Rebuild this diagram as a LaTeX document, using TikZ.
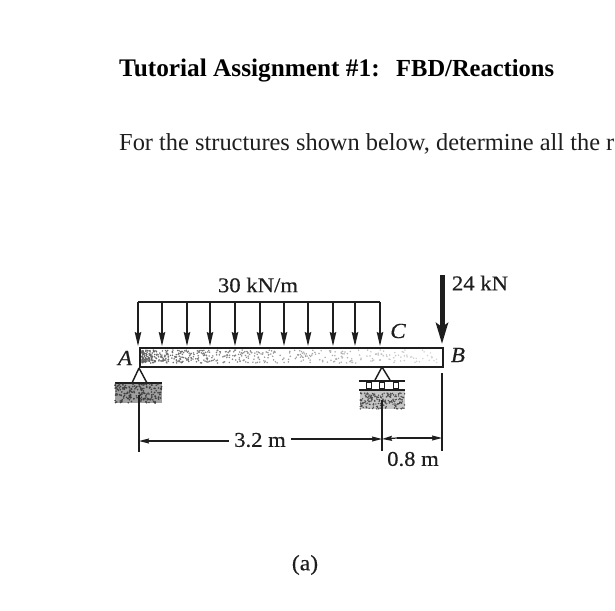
\documentclass[tikz,border=0pt]{standalone}
\usepackage{fontspec}
\setmainfont{Liberation Serif}
\newfontfamily\figfont[FakeStretch=1.08,FakeBold=0.35]{Liberation Serif}
\usetikzlibrary{arrows.meta}
\definecolor{ink}{HTML}{1E1E1E}
\tikzset{
  line/.style={draw=ink,line width=1.45pt},
  thin line/.style={draw=ink,line width=1.15pt},
  load/.style={draw=ink,line width=1.4pt,-{Stealth[length=14pt,width=6.5pt,inset=1.5pt]}},
  dimarrow/.style={draw=ink,line width=1.2pt,-{Stealth[length=10pt,width=5pt,inset=1pt]}},
  title/.style={anchor=base west,inner sep=0pt,font=\fontsize{24.5}{28}\selectfont\bfseries,text=black},
  body/.style={anchor=base west,inner sep=0pt,font=\fontsize{24.4}{28}\selectfont,text=ink},
  lbl/.style={inner sep=0pt,font=\figfont\fontsize{21}{24}\selectfont,text=ink},
  ital/.style={inner sep=0pt,font=\figfont\fontsize{21.5}{26}\selectfont\itshape,text=ink},
  ground/.style={fill=gray!75,draw=none}
}
\begin{document}
\begin{tikzpicture}[x=1pt,y=-1pt]
\useasboundingbox (0,0) rectangle (615,610);
\clip (0,0) rectangle (615,610);
\fill[white] (0,0) rectangle (615,610);
% text
\node[title,font=\fontsize{25.3}{28}\selectfont\bfseries] (t1) at (119,76) {Tutorial Assignment \#1:};
\node[title] (t2) at (396,76) {FBD/Reactions};
\node[body] (p) at (119,150) {For the structures shown below, determine all the r};
% beam
\node[draw=ink,line width=1.5pt,minimum width=303pt,minimum height=19pt,inner sep=0pt,anchor=north west] (beam) at (139,347) {};
\pgfmathsetseed{7}
\foreach \i in {1,...,520}{
  \pgfmathsetmacro{\u}{pow(rnd,1.9)}
  \pgfmathsetmacro{\xx}{142+296*\u}
  \pgfmathsetmacro{\yy}{350+13*rnd}
  \pgfmathsetmacro{\sh}{62-47*\u}
  \fill[black!\sh] (\xx,\yy) circle (.85pt);
}
% distributed load
\coordinate (lL) at (138,302);
\coordinate (lR) at (380,302);
\draw[line] (lL) -- (lR);
\foreach \x/\n in {138/a,162/b,187/c,210/d,235/e,260/f,284/g,308/h,333/i,355/j,380/k}{
  \coordinate (s\n) at (\x,302);
  \coordinate (e\n) at (\x,346);
  \draw[load] (s\n) -- (e\n);
}
\node[lbl] (q) at (258,285) {30 kN/m};
% point load
\coordinate (Ps) at (442,275);
\coordinate (Pe) at (442,344);
\draw[draw=ink,line width=5pt,-{Stealth[length=21pt,width=12pt,inset=4pt]}] (Ps) -- (Pe);
\node[lbl] (P) at (480,283) {24 kN};
% point labels
\node[ital] (A) at (125,358) {A};
\node[ital] (B) at (458,355) {B};
\node[ital] (C) at (398,331) {C};
% pin support A
\fill[ground] (115,384) rectangle (162,403);
\draw[line] (139,368) -- (132,383) (139,368) -- (147,383);
\draw[line] (115,383) -- (162,383);
% roller support C
\fill[gray!45] (360,391) rectangle (405,409);
\draw[line] (382,367) -- (375,380) (382,367) -- (390,380);
\draw[line] (359,381) -- (405,381);
\draw[line] (359,390) -- (405,390);
\foreach \x in {369,382,396}{\draw[thin line] (\x-2.5,382) rectangle (\x+2.5,389);}
% speckle in grounds
\pgfmathsetseed{11}
\foreach \i in {1,...,190}{
  \pgfmathsetmacro{\xa}{115+47*rnd}\pgfmathsetmacro{\ya}{384+19*rnd}
  \pgfmathsetmacro{\xb}{360+45*rnd}\pgfmathsetmacro{\yb}{393+16*rnd}
  \fill[black!75] (\xa,\ya) circle (.9pt);
  \fill[black!70] (\xb,\yb) circle (.8pt);
}
% dimensions
\coordinate (d1t) at (139,395);
\coordinate (d1b) at (139,452);
\coordinate (d2t) at (382,400);
\coordinate (d2b) at (382,451);
\coordinate (d3t) at (442,373);
\coordinate (d3b) at (442,451);
\draw[thin line] (d1t) -- (d1b);
\draw[thin line] (d2t) -- (d2b);
\draw[thin line] (d3t) -- (d3b);
\node[lbl] (L1) at (260,440) {3.2 m};
\node[lbl] (L2) at (413,459) {0.8 m};
\coordinate (d1) at (139,441);
\coordinate (d2) at (382,439);
\coordinate (d3) at (442,438);
\coordinate (m1) at (229,441);
\coordinate (m2) at (291,439);
\coordinate (m3) at (397,438);
\draw[dimarrow] (m1) -- (d1);
\draw[dimarrow] (m2) -- (d2);
\draw[dimarrow] (m3) -- (d2);
\draw[dimarrow] (m3) -- (d3);
% caption
\node[lbl,font=\figfont\fontsize{22}{24}\selectfont] (cap) at (305,565) {(a)};
\end{tikzpicture}
\end{document}
